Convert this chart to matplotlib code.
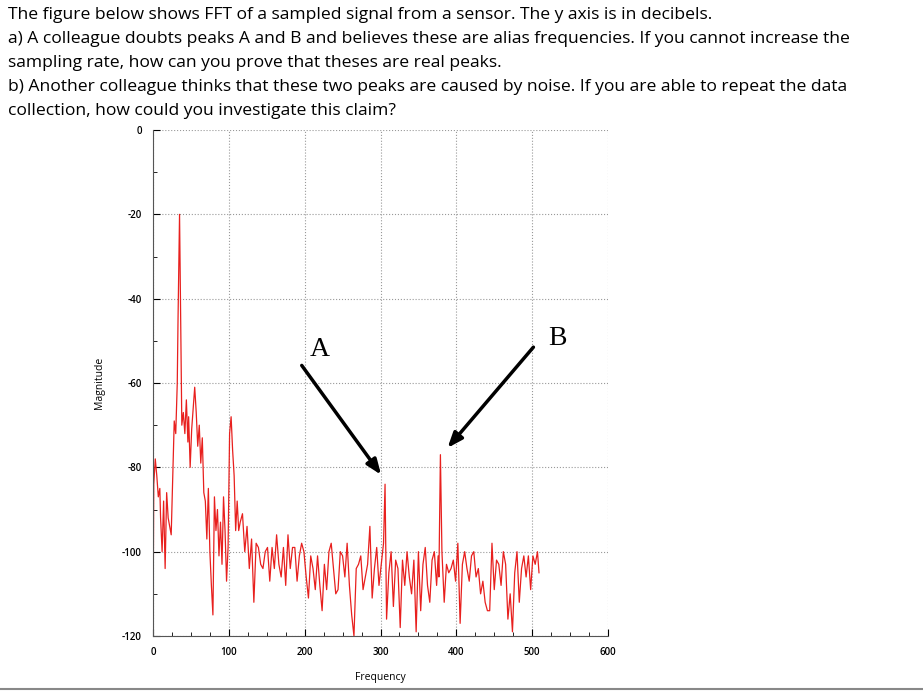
import numpy as np
import matplotlib
matplotlib.use("Agg")
import matplotlib.pyplot as plt
from matplotlib.ticker import MultipleLocator

QUESTION = [
    "The figure below shows FFT of a sampled signal from a sensor. The y axis is in decibels.",
    "a) A colleague doubts peaks A and B and believes these are alias frequencies. If you cannot increase the",
    "sampling rate, how can you prove that theses are real peaks.",
    "b) Another colleague thinks that these two peaks are caused by noise. If you are able to repeat the data",
    "collection, how could you investigate this claim?",
]

# spectrum (frequency, dB)
freq = [0, 1, 3, 5, 7, 9, 10, 12, 14, 16, 18, 20, 22, 24, 26, 28, 30, 32, 33, 35, 37, 38,
        40, 42, 44, 46, 47, 49, 51, 53, 55, 57, 59, 61, 63, 65, 67, 69, 71, 73, 75, 77,
        79, 81, 83, 85, 87, 89, 91, 93, 95, 97, 99, 101, 103, 105, 107, 109, 111, 113,
        115, 118, 121, 124, 127, 130, 133, 136, 139, 142, 145, 148, 151, 154, 157, 160,
        163, 166, 169, 172, 175, 178, 181, 184, 187, 190, 193, 196, 199, 202, 205, 208,
        211, 214, 217, 220, 223, 226, 229, 232, 235, 238, 241, 244, 247, 250, 253, 256,
        259, 262, 265, 268, 271, 274, 277, 280, 283, 286, 289, 292, 295, 298, 301, 304,
        306, 308, 311, 314, 317, 320, 323, 326, 329, 332, 335, 338, 341, 344, 347, 350,
        353, 356, 359, 362, 365, 368, 371, 374, 376, 377, 379, 381, 384, 387, 390, 393,
        396, 399, 402, 405, 408, 411, 414, 417, 420, 423, 426, 429, 432, 435, 438, 441,
        444, 447, 450, 453, 456, 459, 462, 465, 468, 471, 474, 477, 480, 483, 486, 489,
        492, 495, 498, 501, 504, 507, 509]
mag = [-120, -84, -78, -82, -87, -85, -92, -100, -88, -104, -86, -92, -94, -96, -82, -69,
       -72, -60, -45, -20, -55, -70, -67, -72, -64, -74, -68, -80, -71, -66, -61, -67,
       -75, -70, -79, -73, -86, -88, -97, -85, -100, -108, -115, -87, -95, -90, -101,
       -93, -103, -87, -95, -107, -99, -72, -68, -76, -82, -95, -88, -95, -93, -91,
       -100, -94, -104, -97, -112, -98, -99, -103, -104, -100, -99, -107, -99, -104,
       -96, -103, -106, -99, -108, -96, -104, -99, -99, -107, -101, -98, -100, -106,
       -111, -101, -104, -109, -101, -108, -114, -103, -109, -100, -98, -104, -110,
       -109, -100, -101, -106, -98, -108, -115, -120, -104, -103, -101, -109, -106,
       -103, -94, -111, -104, -99, -108, -103, -98, -84, -116, -105, -100, -113, -102,
       -104, -118, -102, -108, -100, -106, -110, -102, -119, -100, -114, -103, -99,
       -108, -112, -102, -100, -108, -101, -106, -77, -100, -112, -103, -105, -104,
       -102, -107, -98, -117, -103, -100, -104, -107, -101, -100, -106, -104, -110,
       -107, -112, -114, -114, -98, -109, -102, -103, -108, -100, -103, -116, -110,
       -119, -105, -100, -112, -104, -101, -106, -101, -109, -101, -103, -100, -105,
       -101]
n = min(len(freq), len(mag))
freq, mag = freq[:n], mag[:n]

plt.rcParams["font.family"] = ["Open Sans", "DejaVu Sans"]
plt.rcParams["axes.unicode_minus"] = False
fig = plt.figure(figsize=(9.23, 6.92), dpi=100)

for i, line in enumerate(QUESTION):
    fig.text(8 / 923, 1 - (15 + 24 * i) / 692, line, fontsize=12.6, va="center", ha="left")

ax = fig.add_axes([153 / 923, 1 - 636 / 692, (608 - 153) / 923, (636 - 130) / 692])
ax.plot(freq, mag, color="#e8201e", lw=0.9)
ax.set_xlim(0, 600)
ax.set_ylim(-120, 0)
ax.xaxis.set_major_locator(MultipleLocator(100))
ax.xaxis.set_minor_locator(MultipleLocator(25))
ax.yaxis.set_major_locator(MultipleLocator(20))
ax.yaxis.set_minor_locator(MultipleLocator(10))
ax.tick_params(labelsize=7, direction="in", length=5, pad=8)
ax.tick_params(which="minor", direction="in", length=3)
for lab in ax.get_xticklabels() + ax.get_yticklabels():
    lab.set_fontweight("semibold")
ax.grid(True, which="major", ls=":", color="#999999", lw=0.8)
for s in ("top", "right"):
    ax.spines[s].set_visible(False)
for s in ("left", "bottom"):
    ax.spines[s].set_color("#555555")
ax.set_xlabel("Frequency", fontsize=7.5, labelpad=10)
ax.set_ylabel("Magnitude", fontsize=7.5, labelpad=12)

arrow = dict(arrowstyle="-|>,head_length=0.9,head_width=0.35", color="black", lw=2.5)
ax.annotate("", xy=(303, -82.3), xytext=(194, -55.3), arrowprops=arrow)
ax.annotate("", xy=(386, -75.9), xytext=(504, -51), arrowprops=arrow)
ax.text(220, -52, "A", fontsize=20, family="Liberation Serif", ha="center", va="center")
ax.text(533, -49.5, "B", fontsize=20, family="Liberation Serif", ha="center", va="center")

fig.add_artist(plt.Line2D([0, 1], [3 / 692, 3 / 692], color="#888888", lw=1.5))
fig.savefig("out.png", dpi=100)
